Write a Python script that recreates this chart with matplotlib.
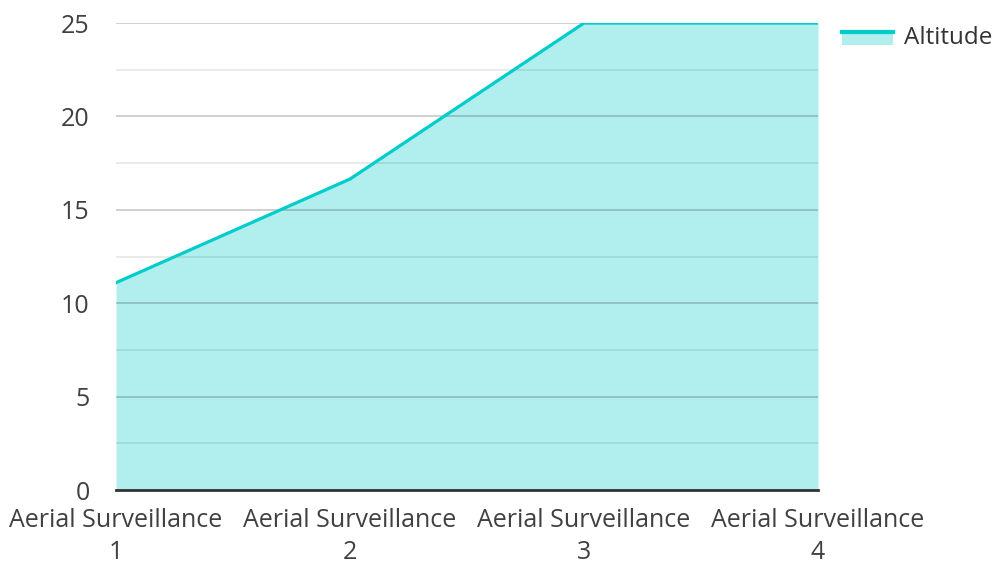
import matplotlib.pyplot as plt
from matplotlib.patches import Rectangle
from matplotlib.lines import Line2D
from matplotlib.legend_handler import HandlerBase

plt.rcParams['font.family'] = ['Open Sans', 'DejaVu Sans']

categories = ["Aerial Surveillance\n1", "Aerial Surveillance\n2",
              "Aerial Surveillance\n3", "Aerial Surveillance\n4"]
altitude = [11.1, 16.65, 25, 25]

line_color = "#00cccc"
fill_color = "#b0efee"


class AreaHandler(HandlerBase):
    def create_artists(self, legend, orig_handle, xdescent, ydescent,
                       width, height, fontsize, trans):
        top = height * 0.7
        rect = Rectangle((-xdescent, -ydescent - height * 0.05), width, top + height * 0.05,
                         facecolor=fill_color, edgecolor="none", transform=trans)
        ln = Line2D([-xdescent, -xdescent + width], [top - ydescent] * 2,
                    color=line_color, lw=3, transform=trans)
        return [rect, ln]


fig = plt.figure(figsize=(9.96, 5.62), dpi=100)
ax = fig.add_axes([0.1165, 0.128, 0.7048, 0.831])

x = list(range(len(categories)))
ax.fill_between(x, altitude, 0, color=fill_color, lw=0, zorder=1)
ax.plot(x, altitude, color=line_color, lw=2.3, zorder=3, solid_joinstyle="miter")

ax.set_xlim(0, 3)
ax.set_ylim(0, 25)
ax.set_yticks([0, 5, 10, 15, 20, 25])
ax.set_yticks([2.5, 7.5, 12.5, 17.5, 22.5], minor=True)
ax.grid(True, which="major", axis="y", color="black", alpha=0.2, lw=1.3, zorder=2)
ax.grid(True, which="minor", axis="y", color="black", alpha=0.09, lw=1.3, zorder=2)
ax.set_axisbelow(False)
ax.set_xticks(x)
ax.set_xticklabels(categories, linespacing=1.35)
ax.tick_params(axis="both", which="both", length=0, labelsize=18, labelcolor="#404040")
ax.tick_params(axis="y", pad=19)
ax.tick_params(axis="x", pad=13)
for s in ["top", "right", "left"]:
    ax.spines[s].set_visible(False)
ax.spines["bottom"].set_color("#333333")
ax.spines["bottom"].set_linewidth(2)
ax.spines["bottom"].set_zorder(4)

handle = Rectangle((0, 0), 1, 1)
leg = fig.legend([handle], ["Altitude"], handler_map={Rectangle: AreaHandler()},
                 loc="upper left", bbox_to_anchor=(0.836, 0.971), frameon=False,
                 fontsize=17.5, handlelength=2.1, handletextpad=0.42, borderaxespad=0)
for t in leg.get_texts():
    t.set_color("#333333")

fig.savefig("out.png", dpi=100)
